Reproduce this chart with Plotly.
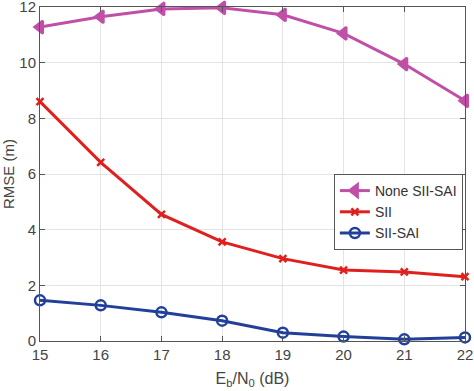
import plotly.graph_objects as go

x_vals = [15, 16, 17, 18, 19, 20, 21, 22]
none_sii_sai = [11.28, 11.65, 11.93, 11.97, 11.72, 11.05, 9.95, 8.63]
sii = [8.6, 6.42, 4.55, 3.56, 2.96, 2.55, 2.48, 2.31]
sii_sai = [1.46, 1.28, 1.03, 0.73, 0.30, 0.16, 0.06, 0.13]

series = [
    ("None SII-SAI", none_sii_sai, "#C04FA8", "triangle-left", 11),
    ("SII", sii, "#E0201E", "x-thin", 7),
    ("SII-SAI", sii_sai, "#22409A", "circle-open", 10),
]

fig = go.Figure()
for name, ys, color, sym, size in series:
    fig.add_trace(go.Scatter(
        x=x_vals, y=ys, mode="lines+markers", name=name,
        line=dict(color=color, width=3),
        marker=dict(symbol=sym, size=size, color=color,
                    line=dict(color=color, width=2.5)),
        cliponaxis=False,
    ))

axis_common = dict(
    showgrid=True, gridcolor="#E3E3E3", gridwidth=1,
    showline=True, linecolor="#555555", linewidth=1, mirror="ticks",
    ticks="inside", ticklen=5, tickcolor="#555555",
    tickfont=dict(family="Liberation Sans, Arial", size=15, color="#444444"),
    zeroline=False, automargin=False, ticklabeloverflow="allow",
)

fig.update_layout(
    width=474, height=391,
    margin=dict(l=40, r=9, t=7, b=50),
    plot_bgcolor="white", paper_bgcolor="white",
    font=dict(family="Liberation Sans, Arial", color="#444444"),
    xaxis=dict(range=[15, 22], dtick=1,
               title=dict(text="E<sub>b</sub>/N<sub>0</sub> (dB)", standoff=10,
                          font=dict(size=16, color="#444444")),
               **axis_common),
    yaxis=dict(range=[0, 12], dtick=2,
               title=dict(text="RMSE (m)", standoff=8,
                          font=dict(size=15, color="#444444")),
               **axis_common),
    legend=dict(x=0.995, y=0.5, xanchor="right", yanchor="top",
                bgcolor="white", bordercolor="#555555", borderwidth=1,
                font=dict(size=14, color="#333333"),
                tracegroupgap=0, itemwidth=30),
    showlegend=True,
)

fig.write_html("out.html",
               config={"displayModeBar": False},
               post_script="document.body.style.margin='0';document.body.style.overflow='hidden';")
